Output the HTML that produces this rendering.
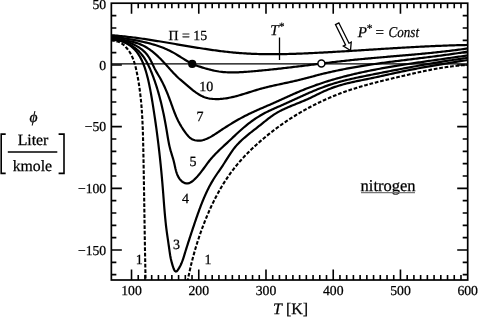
<!DOCTYPE html>
<html><head><meta charset="utf-8"><style>
html,body{margin:0;padding:0;background:#fff;}
body{width:478px;height:317px;overflow:hidden;position:relative;}
svg{position:absolute;left:0;top:0;}
text{font-family:"Liberation Serif","Times New Roman",serif;fill:#000;stroke:#000;stroke-width:0.25px;text-rendering:geometricPrecision;}
.c{fill:none;stroke:#000;stroke-width:2.2;stroke-linejoin:round;stroke-linecap:butt;}
.dash{stroke-dasharray:3.7 1.8;stroke-width:2.1;}
.t{stroke:#000;stroke-width:1.6;fill:none;}
</style></head><body>
<svg width="478" height="317" viewBox="0 0 478 317">
<defs><clipPath id="cp"><rect x="111.35" y="3.2" width="356.35" height="276.8"/></clipPath></defs>
<path class="t" d="M131.52,280 v-10.5 M131.52,3.2 v10.5 M138.24,280 v-5 M138.24,3.2 v5 M144.97,280 v-5 M144.97,3.2 v5 M151.69,280 v-5 M151.69,3.2 v5 M158.42,280 v-5 M158.42,3.2 v5 M165.14,280 v-5 M165.14,3.2 v5 M171.86,280 v-5 M171.86,3.2 v5 M178.59,280 v-5 M178.59,3.2 v5 M185.31,280 v-5 M185.31,3.2 v5 M192.03,280 v-5 M192.03,3.2 v5 M198.76,280 v-10.5 M198.76,3.2 v10.5 M205.48,280 v-5 M205.48,3.2 v5 M212.2,280 v-5 M212.2,3.2 v5 M218.93,280 v-5 M218.93,3.2 v5 M225.65,280 v-5 M225.65,3.2 v5 M232.37,280 v-5 M232.37,3.2 v5 M239.1,280 v-5 M239.1,3.2 v5 M245.82,280 v-5 M245.82,3.2 v5 M252.55,280 v-5 M252.55,3.2 v5 M259.27,280 v-5 M259.27,3.2 v5 M265.99,280 v-10.5 M265.99,3.2 v10.5 M272.72,280 v-5 M272.72,3.2 v5 M279.44,280 v-5 M279.44,3.2 v5 M286.16,280 v-5 M286.16,3.2 v5 M292.89,280 v-5 M292.89,3.2 v5 M299.61,280 v-5 M299.61,3.2 v5 M306.33,280 v-5 M306.33,3.2 v5 M313.06,280 v-5 M313.06,3.2 v5 M319.78,280 v-5 M319.78,3.2 v5 M326.5,280 v-5 M326.5,3.2 v5 M333.23,280 v-10.5 M333.23,3.2 v10.5 M339.95,280 v-5 M339.95,3.2 v5 M346.68,280 v-5 M346.68,3.2 v5 M353.4,280 v-5 M353.4,3.2 v5 M360.12,280 v-5 M360.12,3.2 v5 M366.85,280 v-5 M366.85,3.2 v5 M373.57,280 v-5 M373.57,3.2 v5 M380.29,280 v-5 M380.29,3.2 v5 M387.02,280 v-5 M387.02,3.2 v5 M393.74,280 v-5 M393.74,3.2 v5 M400.46,280 v-10.5 M400.46,3.2 v10.5 M407.19,280 v-5 M407.19,3.2 v5 M413.91,280 v-5 M413.91,3.2 v5 M420.63,280 v-5 M420.63,3.2 v5 M427.36,280 v-5 M427.36,3.2 v5 M434.08,280 v-5 M434.08,3.2 v5 M440.81,280 v-5 M440.81,3.2 v5 M447.53,280 v-5 M447.53,3.2 v5 M454.25,280 v-5 M454.25,3.2 v5 M460.98,280 v-5 M460.98,3.2 v5 M111.35,274.66 h5 M467.7,274.66 h-5 M111.35,262.33 h5 M467.7,262.33 h-5 M111.35,250 h10.5 M467.7,250 h-10.5 M111.35,237.66 h5 M467.7,237.66 h-5 M111.35,225.33 h5 M467.7,225.33 h-5 M111.35,213 h5 M467.7,213 h-5 M111.35,200.66 h5 M467.7,200.66 h-5 M111.35,188.33 h10.5 M467.7,188.33 h-10.5 M111.35,176 h5 M467.7,176 h-5 M111.35,163.66 h5 M467.7,163.66 h-5 M111.35,151.33 h5 M467.7,151.33 h-5 M111.35,139 h5 M467.7,139 h-5 M111.35,126.67 h10.5 M467.7,126.67 h-10.5 M111.35,114.33 h5 M467.7,114.33 h-5 M111.35,102 h5 M467.7,102 h-5 M111.35,89.67 h5 M467.7,89.67 h-5 M111.35,77.33 h5 M467.7,77.33 h-5 M111.35,65 h10.5 M467.7,65 h-10.5 M111.35,52.67 h5 M467.7,52.67 h-5 M111.35,40.33 h5 M467.7,40.33 h-5 M111.35,28 h5 M467.7,28 h-5 M111.35,15.67 h5 M467.7,15.67 h-5"/>
<line x1="111.35" y1="63.85" x2="467.7" y2="63.85" stroke="#000" stroke-width="1.3"/>
<g clip-path="url(#cp)">
<path d="M111.02,35.24 L112.53,35.35 L114.03,35.47 L115.53,35.59 L117.03,35.72 L118.54,35.86 L120.04,36.00 L121.54,36.15 L123.04,36.30 L124.54,36.46 L126.04,36.62 L127.54,36.79 L129.04,36.97 L130.54,37.14 L132.04,37.33 L133.53,37.52 L135.03,37.71 L136.53,37.91 L138.03,38.11 L139.52,38.32 L141.02,38.52 L142.52,38.74 L144.01,38.95 L145.51,39.17 L147.00,39.40 L148.50,39.62 L149.99,39.85 L151.49,40.08 L152.98,40.32 L154.48,40.56 L155.97,40.80 L157.47,41.04 L158.96,41.28 L160.46,41.52 L161.95,41.77 L163.44,42.02 L164.94,42.27 L166.43,42.52 L167.92,42.77 L169.42,43.02 L170.91,43.28 L172.40,43.53 L173.90,43.79 L175.39,44.04 L176.88,44.30 L178.38,44.55 L179.87,44.81 L181.36,45.06 L182.85,45.31 L184.35,45.57 L185.84,45.82 L187.33,46.07 L188.83,46.32 L190.32,46.57 L191.81,46.82 L193.31,47.06 L194.80,47.31 L196.30,47.55 L197.79,47.79 L199.28,48.03 L200.78,48.26 L202.27,48.50 L203.77,48.73 L205.26,48.95 L206.76,49.18 L208.25,49.40 L209.75,49.62 L211.24,49.83 L212.74,50.04 L214.24,50.25 L215.73,50.45 L217.23,50.65 L218.73,50.85 L220.22,51.04 L221.72,51.23 L223.22,51.41 L224.72,51.58 L226.22,51.76 L227.71,51.92 L229.21,52.08 L230.71,52.24 L232.21,52.39 L233.71,52.53 L235.21,52.67 L236.72,52.81 L238.22,52.93 L239.72,53.05 L241.22,53.16 L242.73,53.27 L244.23,53.37 L245.73,53.47 L247.24,53.55 L248.74,53.64 L250.25,53.71 L251.75,53.78 L253.26,53.85 L254.77,53.91 L256.27,53.96 L257.78,54.01 L259.29,54.05 L260.79,54.09 L262.30,54.12 L263.81,54.15 L265.32,54.17 L266.83,54.19 L268.34,54.20 L269.85,54.21 L271.36,54.21 L272.87,54.21 L274.38,54.21 L275.89,54.20 L277.40,54.19 L278.91,54.17 L280.42,54.15 L281.93,54.13 L283.44,54.10 L284.95,54.07 L286.46,54.04 L287.97,54.00 L289.48,53.96 L291.00,53.92 L292.51,53.88 L294.02,53.83 L295.53,53.78 L297.04,53.72 L298.56,53.67 L300.07,53.61 L301.58,53.55 L303.09,53.49 L304.60,53.42 L306.12,53.35 L307.63,53.29 L309.14,53.22 L310.65,53.15 L312.16,53.07 L313.68,53.00 L315.19,52.92 L316.70,52.85 L318.21,52.77 L319.72,52.69 L321.23,52.61 L322.75,52.53 L324.26,52.45 L325.77,52.37 L327.28,52.28 L328.79,52.20 L330.30,52.12 L331.81,52.03 L333.32,51.94 L334.83,51.86 L336.34,51.77 L337.86,51.68 L339.37,51.59 L340.88,51.50 L342.39,51.41 L343.90,51.32 L345.41,51.23 L346.92,51.14 L348.43,51.04 L349.94,50.95 L351.45,50.86 L352.96,50.76 L354.47,50.67 L355.98,50.57 L357.49,50.48 L359.00,50.39 L360.51,50.29 L362.02,50.20 L363.53,50.10 L365.04,50.00 L366.55,49.91 L368.06,49.81 L369.57,49.72 L371.08,49.62 L372.59,49.53 L374.10,49.43 L375.61,49.34 L377.12,49.24 L378.62,49.15 L380.13,49.05 L381.64,48.96 L383.15,48.86 L384.66,48.77 L386.17,48.68 L387.68,48.58 L389.19,48.49 L390.70,48.40 L392.21,48.31 L393.72,48.21 L395.23,48.12 L396.74,48.03 L398.25,47.94 L399.76,47.85 L401.27,47.76 L402.77,47.68 L404.28,47.59 L405.79,47.50 L407.30,47.42 L408.81,47.33 L410.32,47.25 L411.83,47.16 L413.34,47.08 L414.85,47.00 L416.36,46.92 L417.87,46.84 L419.38,46.76 L420.89,46.68 L422.40,46.61 L423.91,46.53 L425.41,46.46 L426.92,46.39 L428.43,46.31 L429.94,46.24 L431.45,46.17 L432.96,46.11 L434.47,46.04 L435.98,45.97 L437.49,45.91 L439.00,45.85 L440.51,45.79 L442.02,45.73 L443.53,45.67 L445.04,45.61 L446.55,45.56 L448.06,45.50 L449.57,45.45 L451.08,45.40 L452.59,45.35 L454.10,45.31 L455.61,45.26 L457.12,45.22 L458.63,45.18 L460.14,45.14 L461.65,45.10 L463.16,45.06 L464.67,45.03 L466.18,45.00 L467.69,44.97" class="c"/>
<path d="M111.00,36.22 L112.49,36.45 L113.97,36.68 L115.46,36.91 L116.95,37.14 L118.44,37.37 L119.93,37.61 L121.41,37.84 L122.90,38.08 L124.39,38.32 L125.88,38.56 L127.37,38.81 L128.85,39.06 L130.34,39.32 L131.82,39.58 L133.31,39.85 L134.79,40.13 L136.27,40.41 L137.75,40.70 L139.22,41.01 L140.70,41.32 L142.17,41.64 L143.64,41.97 L145.11,42.31 L146.57,42.67 L148.04,43.03 L149.50,43.41 L150.95,43.81 L152.40,44.21 L153.85,44.64 L155.30,45.07 L156.74,45.53 L158.17,46.00 L159.60,46.48 L161.03,46.99 L162.44,47.52 L163.85,48.07 L165.24,48.65 L166.63,49.25 L168.00,49.88 L169.36,50.53 L170.70,51.21 L172.03,51.92 L173.35,52.65 L174.66,53.40 L175.95,54.17 L177.24,54.95 L178.53,55.75 L179.80,56.54 L181.08,57.34 L182.35,58.14 L183.63,58.93 L184.91,59.71 L186.19,60.48 L187.48,61.23 L188.78,61.95 L190.10,62.65 L191.43,63.32 L192.78,63.95 L194.15,64.55 L195.53,65.12 L196.93,65.66 L198.34,66.17 L199.76,66.66 L201.20,67.13 L202.65,67.58 L204.10,68.02 L205.56,68.44 L207.03,68.86 L208.51,69.26 L209.99,69.65 L211.48,70.03 L212.96,70.38 L214.46,70.71 L215.95,71.01 L217.44,71.28 L218.94,71.52 L220.43,71.72 L221.93,71.90 L223.43,72.05 L224.93,72.17 L226.42,72.26 L227.92,72.33 L229.42,72.38 L230.92,72.41 L232.42,72.42 L233.92,72.41 L235.42,72.38 L236.92,72.34 L238.42,72.28 L239.93,72.21 L241.43,72.13 L242.93,72.04 L244.43,71.94 L245.93,71.84 L247.43,71.73 L248.93,71.61 L250.43,71.49 L251.93,71.37 L253.43,71.24 L254.93,71.12 L256.43,70.98 L257.93,70.85 L259.43,70.71 L260.93,70.57 L262.43,70.43 L263.92,70.28 L265.42,70.14 L266.92,69.99 L268.42,69.83 L269.92,69.68 L271.42,69.52 L272.91,69.36 L274.41,69.20 L275.91,69.04 L277.41,68.87 L278.90,68.70 L280.40,68.54 L281.90,68.37 L283.40,68.19 L284.89,68.02 L286.39,67.85 L287.89,67.67 L289.38,67.49 L290.88,67.31 L292.38,67.13 L293.87,66.95 L295.37,66.77 L296.87,66.59 L298.36,66.41 L299.86,66.22 L301.36,66.04 L302.85,65.85 L304.35,65.67 L305.85,65.48 L307.34,65.30 L308.84,65.11 L310.33,64.93 L311.83,64.74 L313.33,64.55 L314.82,64.37 L316.32,64.18 L317.82,64.00 L319.31,63.81 L320.81,63.63 L322.31,63.44 L323.80,63.26 L325.30,63.08 L326.80,62.90 L328.30,62.72 L329.79,62.54 L331.29,62.36 L332.79,62.18 L334.29,62.00 L335.78,61.83 L337.28,61.66 L338.78,61.48 L340.28,61.31 L341.77,61.14 L343.27,60.98 L344.77,60.81 L346.27,60.65 L347.77,60.49 L349.27,60.33 L350.77,60.17 L352.26,60.01 L353.76,59.86 L355.26,59.71 L356.76,59.56 L358.26,59.41 L359.76,59.27 L361.26,59.12 L362.76,58.98 L364.26,58.84 L365.76,58.70 L367.26,58.56 L368.76,58.42 L370.26,58.29 L371.76,58.15 L373.27,58.02 L374.77,57.88 L376.27,57.75 L377.77,57.62 L379.27,57.49 L380.77,57.36 L382.27,57.23 L383.77,57.10 L385.27,56.98 L386.77,56.85 L388.28,56.72 L389.78,56.59 L391.28,56.47 L392.78,56.34 L394.28,56.21 L395.78,56.09 L397.28,55.96 L398.78,55.83 L400.28,55.70 L401.79,55.58 L403.29,55.45 L404.79,55.32 L406.29,55.19 L407.79,55.06 L409.29,54.93 L410.79,54.79 L412.29,54.66 L413.79,54.53 L415.29,54.39 L416.79,54.26 L418.29,54.12 L419.79,53.98 L421.29,53.84 L422.79,53.70 L424.29,53.56 L425.79,53.41 L427.29,53.26 L428.79,53.12 L430.29,52.97 L431.79,52.82 L433.29,52.66 L434.79,52.51 L436.29,52.35 L437.78,52.19 L439.28,52.03 L440.78,51.86 L442.28,51.69 L443.78,51.52 L445.27,51.35 L446.77,51.18 L448.27,51.00 L449.76,50.82 L451.26,50.63 L452.76,50.45 L454.25,50.26 L455.75,50.07 L457.24,49.87 L458.74,49.67 L460.23,49.47 L461.73,49.26 L463.22,49.05 L464.72,48.84 L466.21,48.63 L467.70,48.40" class="c"/>
<path d="M111.01,37.00 L112.40,37.43 L113.81,37.83 L115.24,38.20 L116.69,38.54 L118.16,38.87 L119.64,39.18 L121.14,39.48 L122.64,39.77 L124.15,40.07 L125.66,40.36 L127.17,40.66 L128.68,40.98 L130.19,41.30 L131.69,41.65 L133.18,42.02 L134.65,42.42 L136.11,42.85 L137.56,43.31 L138.98,43.82 L140.38,44.37 L141.76,44.97 L143.11,45.61 L144.44,46.30 L145.74,47.03 L147.02,47.80 L148.29,48.60 L149.53,49.44 L150.75,50.32 L151.95,51.22 L153.13,52.15 L154.30,53.12 L155.44,54.10 L156.58,55.11 L157.69,56.14 L158.79,57.19 L159.88,58.25 L160.95,59.33 L162.01,60.42 L163.06,61.52 L164.09,62.63 L165.12,63.75 L166.13,64.87 L167.14,65.99 L168.15,67.12 L169.15,68.24 L170.15,69.36 L171.15,70.47 L172.16,71.58 L173.17,72.67 L174.20,73.76 L175.24,74.83 L176.29,75.89 L177.37,76.93 L178.46,77.95 L179.58,78.95 L180.71,79.94 L181.86,80.92 L183.02,81.89 L184.19,82.87 L185.36,83.85 L186.53,84.85 L187.70,85.85 L188.87,86.85 L190.05,87.85 L191.24,88.83 L192.43,89.81 L193.64,90.76 L194.85,91.68 L196.08,92.57 L197.33,93.43 L198.60,94.24 L199.89,95.00 L201.19,95.71 L202.53,96.37 L203.89,96.95 L205.27,97.47 L206.69,97.90 L208.14,98.26 L209.61,98.55 L211.10,98.77 L212.61,98.93 L214.12,99.02 L215.64,99.07 L217.16,99.07 L218.67,99.04 L220.18,98.96 L221.68,98.84 L223.18,98.70 L224.67,98.51 L226.16,98.30 L227.64,98.06 L229.12,97.79 L230.59,97.49 L232.07,97.17 L233.54,96.83 L235.00,96.47 L236.47,96.09 L237.93,95.69 L239.39,95.28 L240.84,94.86 L242.30,94.43 L243.76,93.98 L245.21,93.54 L246.66,93.08 L248.11,92.62 L249.57,92.16 L251.02,91.70 L252.47,91.25 L253.92,90.80 L255.38,90.35 L256.83,89.91 L258.29,89.48 L259.75,89.06 L261.21,88.66 L262.67,88.26 L264.13,87.88 L265.59,87.50 L267.06,87.14 L268.53,86.78 L269.99,86.43 L271.46,86.09 L272.93,85.75 L274.40,85.42 L275.87,85.09 L277.34,84.77 L278.81,84.45 L280.29,84.13 L281.76,83.81 L283.23,83.49 L284.70,83.18 L286.18,82.86 L287.65,82.55 L289.12,82.23 L290.59,81.90 L292.07,81.58 L293.54,81.25 L295.01,80.92 L296.48,80.58 L297.95,80.23 L299.42,79.88 L300.88,79.52 L302.35,79.15 L303.82,78.78 L305.28,78.40 L306.75,78.01 L308.21,77.63 L309.68,77.24 L311.14,76.85 L312.61,76.46 L314.07,76.07 L315.54,75.68 L317.00,75.29 L318.47,74.91 L319.94,74.54 L321.40,74.17 L322.87,73.80 L324.34,73.44 L325.82,73.09 L327.29,72.74 L328.76,72.40 L330.24,72.06 L331.71,71.73 L333.19,71.41 L334.67,71.08 L336.14,70.77 L337.62,70.46 L339.10,70.15 L340.58,69.85 L342.06,69.55 L343.55,69.26 L345.03,68.97 L346.51,68.69 L348.00,68.41 L349.48,68.14 L350.97,67.87 L352.45,67.60 L353.94,67.34 L355.43,67.08 L356.92,66.82 L358.40,66.57 L359.89,66.32 L361.38,66.08 L362.88,65.84 L364.37,65.60 L365.86,65.37 L367.35,65.13 L368.84,64.90 L370.34,64.68 L371.83,64.46 L373.33,64.24 L374.82,64.02 L376.32,63.80 L377.81,63.59 L379.31,63.38 L380.80,63.17 L382.30,62.96 L383.80,62.76 L385.29,62.56 L386.79,62.36 L388.29,62.16 L389.79,61.96 L391.29,61.76 L392.79,61.57 L394.29,61.38 L395.78,61.18 L397.28,60.99 L398.78,60.80 L400.28,60.62 L401.78,60.43 L403.28,60.24 L404.78,60.05 L406.29,59.87 L407.79,59.68 L409.29,59.50 L410.79,59.32 L412.29,59.13 L413.79,58.95 L415.29,58.76 L416.79,58.58 L418.29,58.40 L419.79,58.21 L421.29,58.03 L422.79,57.84 L424.29,57.66 L425.79,57.47 L427.29,57.28 L428.79,57.09 L430.29,56.91 L431.79,56.72 L433.29,56.53 L434.79,56.33 L436.29,56.14 L437.79,55.95 L439.29,55.75 L440.79,55.55 L442.29,55.35 L443.79,55.15 L445.28,54.95 L446.78,54.74 L448.28,54.54 L449.77,54.33 L451.27,54.12 L452.77,53.90 L454.26,53.69 L455.76,53.47 L457.25,53.25 L458.75,53.02 L460.24,52.80 L461.73,52.57 L463.23,52.33 L464.72,52.10 L466.21,51.86 L467.70,51.62" class="c"/>
<path d="M111.04,37.61 L112.45,37.89 L113.88,38.19 L115.32,38.50 L116.77,38.83 L118.23,39.18 L119.70,39.55 L121.17,39.94 L122.64,40.36 L124.11,40.80 L125.58,41.27 L127.04,41.76 L128.49,42.28 L129.92,42.84 L131.34,43.42 L132.74,44.04 L134.11,44.69 L135.47,45.38 L136.79,46.11 L138.08,46.88 L139.35,47.68 L140.57,48.53 L141.76,49.42 L142.90,50.36 L144.00,51.34 L145.06,52.37 L146.06,53.45 L147.01,54.58 L147.90,55.76 L148.74,57.00 L149.52,58.28 L150.27,59.60 L150.97,60.95 L151.66,62.32 L152.32,63.71 L152.98,65.10 L153.64,66.49 L154.31,67.87 L154.99,69.24 L155.71,70.57 L156.45,71.89 L157.21,73.18 L157.98,74.46 L158.75,75.73 L159.51,77.02 L160.25,78.31 L160.97,79.62 L161.68,80.94 L162.37,82.27 L163.04,83.62 L163.69,84.97 L164.34,86.33 L164.96,87.70 L165.57,89.08 L166.17,90.47 L166.76,91.86 L167.33,93.26 L167.89,94.66 L168.44,96.07 L168.99,97.48 L169.52,98.89 L170.04,100.31 L170.56,101.72 L171.07,103.14 L171.58,104.55 L172.09,105.97 L172.60,107.38 L173.11,108.79 L173.63,110.19 L174.17,111.59 L174.71,112.99 L175.27,114.37 L175.84,115.75 L176.43,117.13 L177.05,118.49 L177.69,119.85 L178.35,121.19 L179.05,122.52 L179.77,123.84 L180.53,125.15 L181.31,126.46 L182.12,127.75 L182.96,129.04 L183.82,130.32 L184.71,131.60 L185.62,132.88 L186.57,134.13 L187.55,135.34 L188.59,136.48 L189.68,137.52 L190.84,138.44 L192.08,139.21 L193.41,139.81 L194.79,140.25 L196.22,140.53 L197.66,140.67 L199.09,140.68 L200.51,140.57 L201.93,140.34 L203.33,140.01 L204.72,139.58 L206.11,139.07 L207.48,138.48 L208.85,137.82 L210.21,137.10 L211.56,136.34 L212.90,135.53 L214.24,134.70 L215.56,133.84 L216.88,132.97 L218.20,132.09 L219.50,131.23 L220.80,130.37 L222.09,129.52 L223.38,128.68 L224.67,127.85 L225.95,127.02 L227.23,126.21 L228.51,125.41 L229.78,124.61 L231.06,123.83 L232.34,123.06 L233.61,122.29 L234.89,121.53 L236.17,120.79 L237.46,120.05 L238.74,119.32 L240.04,118.60 L241.34,117.90 L242.64,117.20 L243.95,116.51 L245.27,115.83 L246.60,115.16 L247.93,114.50 L249.27,113.85 L250.62,113.20 L251.97,112.56 L253.33,111.93 L254.70,111.31 L256.07,110.69 L257.44,110.07 L258.82,109.46 L260.20,108.85 L261.58,108.25 L262.97,107.65 L264.36,107.04 L265.75,106.44 L267.14,105.84 L268.53,105.24 L269.93,104.64 L271.32,104.03 L272.71,103.43 L274.10,102.82 L275.49,102.21 L276.88,101.59 L278.26,100.97 L279.64,100.34 L281.02,99.72 L282.40,99.09 L283.78,98.46 L285.16,97.83 L286.54,97.20 L287.92,96.57 L289.30,95.95 L290.68,95.33 L292.06,94.71 L293.44,94.09 L294.82,93.48 L296.20,92.87 L297.59,92.27 L298.98,91.68 L300.37,91.09 L301.76,90.52 L303.15,89.95 L304.55,89.38 L305.95,88.83 L307.35,88.28 L308.75,87.74 L310.16,87.21 L311.57,86.68 L312.98,86.17 L314.39,85.66 L315.81,85.15 L317.23,84.66 L318.65,84.17 L320.07,83.68 L321.49,83.21 L322.92,82.74 L324.35,82.27 L325.78,81.82 L327.21,81.37 L328.64,80.92 L330.08,80.49 L331.52,80.05 L332.96,79.63 L334.40,79.21 L335.84,78.80 L337.29,78.39 L338.73,77.99 L340.18,77.59 L341.63,77.20 L343.08,76.81 L344.54,76.43 L345.99,76.06 L347.45,75.69 L348.91,75.33 L350.37,74.97 L351.83,74.61 L353.29,74.26 L354.75,73.92 L356.22,73.58 L357.68,73.24 L359.15,72.91 L360.62,72.59 L362.09,72.27 L363.56,71.95 L365.03,71.63 L366.51,71.33 L367.98,71.02 L369.46,70.72 L370.93,70.42 L372.41,70.13 L373.89,69.84 L375.37,69.55 L376.85,69.27 L378.33,68.99 L379.81,68.71 L381.30,68.44 L382.78,68.17 L384.26,67.91 L385.75,67.64 L387.24,67.38 L388.72,67.12 L390.21,66.87 L391.70,66.62 L393.19,66.37 L394.68,66.12 L396.17,65.88 L397.66,65.63 L399.15,65.40 L400.64,65.16 L402.13,64.92 L403.62,64.69 L405.11,64.46 L406.61,64.23 L408.10,64.00 L409.59,63.77 L411.09,63.55 L412.58,63.33 L414.07,63.10 L415.57,62.88 L417.06,62.66 L418.55,62.45 L420.05,62.23 L421.54,62.01 L423.04,61.80 L424.53,61.59 L426.02,61.37 L427.52,61.16 L429.01,60.95 L430.50,60.74 L432.00,60.53 L433.49,60.31 L434.98,60.10 L436.47,59.89 L437.97,59.68 L439.46,59.47 L440.95,59.26 L442.44,59.05 L443.93,58.84 L445.42,58.63 L446.91,58.42 L448.40,58.21 L449.89,58.00 L451.37,57.78 L452.86,57.57 L454.35,57.35 L455.83,57.14 L457.32,56.92 L458.80,56.70 L460.28,56.48 L461.77,56.26 L463.25,56.04 L464.73,55.82 L466.21,55.60 L467.69,55.37" class="c"/>
<path d="M111.00,38.20 L112.51,38.43 L114.00,38.71 L115.48,39.02 L116.94,39.38 L118.39,39.79 L119.82,40.23 L121.24,40.71 L122.65,41.24 L124.04,41.80 L125.42,42.41 L126.78,43.05 L128.13,43.73 L129.46,44.45 L130.78,45.21 L132.07,46.00 L133.34,46.84 L134.58,47.72 L135.78,48.63 L136.95,49.59 L138.08,50.60 L139.16,51.64 L140.19,52.73 L141.18,53.86 L142.12,55.02 L143.02,56.22 L143.89,57.45 L144.71,58.71 L145.51,59.99 L146.27,61.30 L147.00,62.62 L147.70,63.96 L148.38,65.31 L149.03,66.67 L149.67,68.04 L150.28,69.43 L150.87,70.82 L151.45,72.22 L152.01,73.62 L152.55,75.03 L153.08,76.45 L153.60,77.86 L154.11,79.28 L154.61,80.70 L155.10,82.13 L155.58,83.56 L156.05,84.99 L156.51,86.42 L156.96,87.85 L157.40,89.29 L157.83,90.73 L158.25,92.17 L158.66,93.62 L159.06,95.06 L159.46,96.51 L159.85,97.97 L160.23,99.42 L160.60,100.88 L160.96,102.34 L161.32,103.80 L161.67,105.26 L162.01,106.73 L162.34,108.20 L162.67,109.67 L162.99,111.14 L163.31,112.62 L163.62,114.09 L163.92,115.57 L164.22,117.06 L164.51,118.54 L164.79,120.03 L165.07,121.52 L165.35,123.01 L165.62,124.51 L165.89,126.00 L166.15,127.50 L166.41,129.00 L166.66,130.50 L166.91,132.01 L167.16,133.52 L167.40,135.02 L167.65,136.53 L167.91,138.03 L168.17,139.52 L168.44,141.01 L168.72,142.50 L169.01,143.97 L169.32,145.43 L169.65,146.88 L170.00,148.31 L170.37,149.73 L170.76,151.14 L171.18,152.53 L171.60,153.91 L172.04,155.30 L172.47,156.70 L172.90,158.12 L173.31,159.56 L173.71,161.02 L174.08,162.53 L174.43,164.06 L174.77,165.62 L175.12,167.18 L175.48,168.73 L175.88,170.28 L176.31,171.80 L176.78,173.28 L177.32,174.72 L177.93,176.10 L178.63,177.42 L179.41,178.66 L180.31,179.81 L181.32,180.86 L182.45,181.80 L183.69,182.58 L185.01,183.16 L186.36,183.47 L187.71,183.47 L189.05,183.14 L190.36,182.55 L191.64,181.75 L192.89,180.80 L194.09,179.75 L195.24,178.66 L196.35,177.54 L197.42,176.40 L198.44,175.23 L199.43,174.06 L200.39,172.87 L201.33,171.66 L202.25,170.45 L203.15,169.24 L204.04,168.02 L204.92,166.80 L205.80,165.58 L206.68,164.37 L207.57,163.17 L208.47,161.97 L209.39,160.79 L210.33,159.63 L211.29,158.48 L212.27,157.35 L213.27,156.24 L214.29,155.14 L215.33,154.05 L216.39,152.97 L217.45,151.91 L218.53,150.85 L219.62,149.80 L220.72,148.76 L221.82,147.72 L222.93,146.69 L224.05,145.66 L225.16,144.63 L226.28,143.60 L227.39,142.58 L228.50,141.55 L229.61,140.51 L230.71,139.48 L231.81,138.44 L232.91,137.41 L234.01,136.37 L235.11,135.34 L236.21,134.31 L237.32,133.29 L238.42,132.27 L239.54,131.25 L240.65,130.24 L241.78,129.24 L242.91,128.25 L244.05,127.27 L245.21,126.30 L246.37,125.34 L247.54,124.40 L248.73,123.46 L249.93,122.55 L251.14,121.64 L252.36,120.76 L253.60,119.88 L254.85,119.03 L256.11,118.19 L257.37,117.36 L258.65,116.56 L259.95,115.77 L261.25,115.00 L262.56,114.26 L263.88,113.53 L265.21,112.81 L266.55,112.12 L267.90,111.45 L269.25,110.80 L270.62,110.16 L271.98,109.54 L273.36,108.92 L274.73,108.32 L276.11,107.71 L277.49,107.11 L278.87,106.51 L280.26,105.91 L281.63,105.30 L283.01,104.68 L284.39,104.07 L285.76,103.45 L287.14,102.82 L288.51,102.20 L289.89,101.57 L291.26,100.94 L292.63,100.31 L294.00,99.68 L295.38,99.05 L296.75,98.42 L298.12,97.79 L299.50,97.16 L300.87,96.53 L302.25,95.91 L303.63,95.29 L305.00,94.67 L306.38,94.06 L307.76,93.45 L309.15,92.84 L310.53,92.24 L311.92,91.65 L313.31,91.06 L314.70,90.48 L316.09,89.90 L317.48,89.34 L318.88,88.78 L320.28,88.23 L321.69,87.69 L323.10,87.16 L324.51,86.64 L325.92,86.13 L327.34,85.63 L328.76,85.14 L330.19,84.67 L331.62,84.21 L333.05,83.75 L334.49,83.32 L335.93,82.89 L337.38,82.47 L338.83,82.06 L340.28,81.66 L341.73,81.27 L343.19,80.90 L344.65,80.52 L346.11,80.16 L347.58,79.80 L349.05,79.46 L350.52,79.11 L351.99,78.78 L353.46,78.45 L354.94,78.12 L356.41,77.80 L357.89,77.49 L359.37,77.18 L360.85,76.87 L362.33,76.57 L363.81,76.26 L365.29,75.96 L366.77,75.67 L368.25,75.37 L369.73,75.07 L371.21,74.78 L372.70,74.48 L374.18,74.19 L375.66,73.90 L377.14,73.60 L378.62,73.31 L380.10,73.02 L381.58,72.73 L383.06,72.43 L384.54,72.14 L386.02,71.85 L387.50,71.57 L388.98,71.28 L390.46,70.99 L391.94,70.70 L393.42,70.42 L394.90,70.13 L396.38,69.85 L397.85,69.56 L399.33,69.28 L400.81,69.00 L402.29,68.72 L403.77,68.44 L405.25,68.16 L406.73,67.88 L408.21,67.61 L409.70,67.33 L411.18,67.06 L412.66,66.79 L414.14,66.52 L415.62,66.25 L417.10,65.98 L418.58,65.71 L420.06,65.44 L421.55,65.18 L423.03,64.92 L424.51,64.65 L425.99,64.39 L427.48,64.13 L428.96,63.88 L430.45,63.62 L431.93,63.37 L433.41,63.11 L434.90,62.86 L436.39,62.61 L437.87,62.37 L439.36,62.12 L440.85,61.88 L442.33,61.63 L443.82,61.39 L445.31,61.15 L446.80,60.92 L448.29,60.68 L449.78,60.45 L451.27,60.22 L452.76,59.99 L454.25,59.76 L455.74,59.54 L457.24,59.32 L458.73,59.10 L460.22,58.88 L461.72,58.66 L463.22,58.45 L464.71,58.24 L466.21,58.03 L467.71,57.82" class="c"/>
<path d="M110.99,38.91 L112.49,39.13 L113.98,39.38 L115.46,39.67 L116.94,40.00 L118.40,40.36 L119.85,40.77 L121.28,41.22 L122.70,41.72 L124.09,42.28 L125.45,42.89 L126.79,43.56 L128.09,44.29 L129.37,45.09 L130.60,45.95 L131.80,46.88 L132.95,47.87 L134.05,48.92 L135.11,50.02 L136.11,51.16 L137.05,52.34 L137.94,53.56 L138.77,54.80 L139.55,56.07 L140.28,57.37 L140.98,58.69 L141.64,60.03 L142.27,61.38 L142.87,62.76 L143.44,64.15 L143.98,65.55 L144.50,66.97 L144.99,68.40 L145.45,69.84 L145.90,71.28 L146.33,72.73 L146.74,74.19 L147.13,75.66 L147.50,77.12 L147.87,78.59 L148.22,80.05 L148.55,81.52 L148.88,82.99 L149.20,84.46 L149.50,85.93 L149.80,87.41 L150.09,88.88 L150.37,90.35 L150.64,91.83 L150.91,93.31 L151.17,94.78 L151.43,96.26 L151.68,97.74 L151.93,99.22 L152.17,100.70 L152.42,102.18 L152.66,103.66 L152.90,105.15 L153.14,106.63 L153.37,108.12 L153.60,109.60 L153.83,111.09 L154.06,112.57 L154.29,114.06 L154.51,115.55 L154.73,117.04 L154.95,118.53 L155.17,120.02 L155.38,121.51 L155.60,123.00 L155.81,124.49 L156.02,125.98 L156.22,127.47 L156.43,128.97 L156.63,130.46 L156.83,131.95 L157.03,133.45 L157.22,134.94 L157.41,136.44 L157.60,137.93 L157.79,139.43 L157.98,140.92 L158.16,142.42 L158.35,143.91 L158.53,145.41 L158.70,146.91 L158.88,148.40 L159.05,149.90 L159.23,151.40 L159.40,152.89 L159.56,154.39 L159.73,155.89 L159.89,157.39 L160.05,158.88 L160.21,160.38 L160.37,161.88 L160.52,163.37 L160.68,164.87 L160.83,166.37 L160.98,167.87 L161.12,169.36 L161.27,170.86 L161.41,172.36 L161.55,173.85 L161.69,175.35 L161.83,176.85 L161.96,178.34 L162.09,179.84 L162.22,181.33 L162.35,182.83 L162.48,184.32 L162.60,185.82 L162.73,187.31 L162.85,188.80 L162.97,190.30 L163.08,191.79 L163.20,193.28 L163.31,194.78 L163.42,196.27 L163.54,197.76 L163.65,199.25 L163.76,200.75 L163.88,202.24 L163.99,203.73 L164.11,205.23 L164.23,206.72 L164.35,208.22 L164.47,209.71 L164.59,211.21 L164.72,212.71 L164.85,214.21 L164.99,215.71 L165.13,217.22 L165.28,218.72 L165.43,220.23 L165.58,221.74 L165.75,223.25 L165.91,224.76 L166.09,226.27 L166.27,227.79 L166.46,229.31 L166.66,230.83 L166.86,232.35 L167.07,233.87 L167.28,235.39 L167.50,236.91 L167.72,238.41 L167.94,239.91 L168.16,241.40 L168.37,242.87 L168.58,244.33 L168.79,245.77 L168.99,247.19 L169.19,248.59 L169.38,249.97 L169.57,251.34 L169.77,252.71 L169.98,254.10 L170.21,255.50 L170.48,256.94 L170.77,258.42 L171.11,259.94 L171.49,261.52 L171.92,263.17 L172.42,264.90 L172.98,266.71 L173.60,268.50 L174.30,270.05 L175.06,271.15 L175.88,271.58 L176.77,271.19 L177.67,270.19 L178.53,268.94 L179.32,267.64 L180.06,266.31 L180.73,264.95 L181.36,263.56 L181.94,262.15 L182.48,260.72 L182.99,259.27 L183.47,257.81 L183.94,256.35 L184.39,254.88 L184.83,253.42 L185.27,251.96 L185.71,250.51 L186.16,249.07 L186.61,247.64 L187.06,246.21 L187.52,244.79 L187.97,243.37 L188.43,241.95 L188.90,240.53 L189.36,239.11 L189.82,237.69 L190.29,236.27 L190.75,234.84 L191.22,233.42 L191.69,231.99 L192.16,230.57 L192.64,229.14 L193.11,227.71 L193.59,226.28 L194.07,224.85 L194.55,223.42 L195.03,221.99 L195.52,220.56 L196.01,219.14 L196.50,217.71 L197.00,216.28 L197.49,214.86 L198.00,213.43 L198.50,212.01 L199.02,210.59 L199.54,209.17 L200.06,207.76 L200.59,206.34 L201.13,204.94 L201.68,203.53 L202.24,202.13 L202.80,200.74 L203.38,199.35 L203.96,197.96 L204.56,196.58 L205.16,195.21 L205.78,193.84 L206.41,192.48 L207.06,191.12 L207.71,189.77 L208.38,188.43 L209.07,187.10 L209.77,185.78 L210.48,184.46 L211.21,183.15 L211.96,181.86 L212.72,180.57 L213.50,179.29 L214.30,178.02 L215.11,176.76 L215.94,175.50 L216.77,174.25 L217.62,173.00 L218.46,171.76 L219.32,170.51 L220.17,169.27 L221.02,168.02 L221.87,166.77 L222.72,165.52 L223.56,164.26 L224.39,162.99 L225.21,161.72 L226.02,160.43 L226.82,159.15 L227.62,157.86 L228.43,156.58 L229.24,155.30 L230.06,154.03 L230.90,152.78 L231.75,151.54 L232.62,150.31 L233.51,149.11 L234.43,147.93 L235.38,146.78 L236.36,145.65 L237.36,144.54 L238.39,143.46 L239.44,142.39 L240.50,141.34 L241.59,140.31 L242.69,139.29 L243.82,138.29 L244.95,137.30 L246.10,136.32 L247.26,135.36 L248.43,134.40 L249.61,133.45 L250.79,132.50 L251.98,131.57 L253.18,130.63 L254.38,129.70 L255.58,128.77 L256.77,127.84 L257.97,126.90 L259.16,125.97 L260.35,125.03 L261.53,124.08 L262.71,123.13 L263.88,122.19 L265.05,121.24 L266.23,120.30 L267.41,119.37 L268.59,118.45 L269.78,117.55 L270.98,116.66 L272.20,115.80 L273.43,114.95 L274.67,114.13 L275.93,113.34 L277.21,112.58 L278.51,111.85 L279.82,111.14 L281.15,110.45 L282.48,109.78 L283.84,109.14 L285.20,108.50 L286.57,107.89 L287.95,107.28 L289.34,106.69 L290.74,106.11 L292.14,105.53 L293.54,104.96 L294.95,104.40 L296.36,103.83 L297.77,103.27 L299.18,102.70 L300.58,102.13 L301.99,101.55 L303.39,100.97 L304.79,100.38 L306.18,99.77 L307.56,99.15 L308.93,98.52 L310.30,97.88 L311.67,97.23 L313.03,96.58 L314.39,95.92 L315.74,95.26 L317.10,94.60 L318.45,93.94 L319.80,93.28 L321.16,92.63 L322.52,91.99 L323.88,91.36 L325.24,90.74 L326.61,90.13 L327.99,89.54 L329.37,88.97 L330.76,88.42 L332.16,87.89 L333.57,87.38 L334.98,86.89 L336.40,86.42 L337.83,85.96 L339.26,85.52 L340.70,85.10 L342.15,84.69 L343.60,84.29 L345.06,83.91 L346.52,83.54 L347.98,83.18 L349.45,82.83 L350.92,82.49 L352.39,82.15 L353.87,81.83 L355.34,81.51 L356.82,81.19 L358.31,80.88 L359.79,80.58 L361.27,80.27 L362.75,79.97 L364.24,79.67 L365.72,79.37 L367.20,79.07 L368.68,78.76 L370.16,78.46 L371.63,78.15 L373.11,77.84 L374.58,77.52 L376.05,77.20 L377.52,76.88 L378.99,76.56 L380.46,76.24 L381.93,75.91 L383.39,75.59 L384.86,75.26 L386.32,74.94 L387.79,74.61 L389.25,74.29 L390.72,73.96 L392.18,73.64 L393.65,73.32 L395.12,73.00 L396.58,72.68 L398.05,72.36 L399.52,72.05 L400.99,71.74 L402.46,71.43 L403.93,71.13 L405.41,70.83 L406.88,70.53 L408.35,70.24 L409.83,69.94 L411.31,69.65 L412.79,69.37 L414.27,69.08 L415.75,68.80 L417.23,68.52 L418.71,68.25 L420.19,67.97 L421.67,67.70 L423.15,67.43 L424.64,67.16 L426.12,66.90 L427.61,66.63 L429.09,66.37 L430.58,66.11 L432.06,65.85 L433.55,65.59 L435.03,65.34 L436.52,65.09 L438.01,64.83 L439.49,64.58 L440.98,64.33 L442.47,64.09 L443.95,63.84 L445.44,63.59 L446.93,63.35 L448.41,63.11 L449.90,62.86 L451.38,62.62 L452.87,62.38 L454.36,62.14 L455.84,61.90 L457.32,61.66 L458.81,61.42 L460.29,61.19 L461.77,60.95 L463.26,60.71 L464.74,60.47 L466.22,60.24 L467.70,60.00" class="c"/>
<path d="M110.98,40.34 L112.54,40.53 L114.07,40.76 L115.58,41.02 L117.04,41.36 L118.45,41.79 L119.81,42.33 L121.09,43.00 L122.30,43.83 L123.45,44.78 L124.56,45.82 L125.64,46.92 L126.69,48.07 L127.67,49.27 L128.60,50.49 L129.45,51.75 L130.25,53.04 L130.99,54.36 L131.67,55.70 L132.30,57.06 L132.89,58.44 L133.43,59.85 L133.93,61.27 L134.39,62.71 L134.83,64.16 L135.23,65.62 L135.61,67.09 L135.96,68.57 L136.30,70.06 L136.62,71.55 L136.93,73.04 L137.23,74.53 L137.52,76.02 L137.80,77.52 L138.07,79.01 L138.33,80.51 L138.58,82.00 L138.82,83.50 L139.05,85.00 L139.27,86.50 L139.49,88.00 L139.69,89.50 L139.89,91.01 L140.08,92.51 L140.27,94.02 L140.44,95.52 L140.61,97.03 L140.77,98.53 L140.92,100.04 L141.07,101.55 L141.21,103.06 L141.34,104.57 L141.47,106.08 L141.59,107.59 L141.70,109.10 L141.81,110.61 L141.92,112.13 L142.02,113.64 L142.11,115.15 L142.20,116.67 L142.28,118.18 L142.36,119.70 L142.44,121.21 L142.51,122.73 L142.58,124.24 L142.64,125.76 L142.70,127.28 L142.76,128.79 L142.81,130.31 L142.86,131.83 L142.91,133.34 L142.96,134.86 L143.00,136.38 L143.04,137.90 L143.08,139.42 L143.12,140.93 L143.15,142.45 L143.19,143.97 L143.22,145.49 L143.25,147.01 L143.29,148.53 L143.32,150.04 L143.35,151.56 L143.38,153.08 L143.41,154.60 L143.44,156.11 L143.47,157.63 L143.50,159.15 L143.53,160.67 L143.55,162.18 L143.58,163.70 L143.61,165.22 L143.64,166.74 L143.66,168.25 L143.69,169.77 L143.72,171.29 L143.75,172.80 L143.77,174.32 L143.80,175.84 L143.82,177.35 L143.85,178.87 L143.87,180.39 L143.90,181.90 L143.93,183.42 L143.95,184.94 L143.97,186.45 L144.00,187.97 L144.02,189.49 L144.05,191.00 L144.07,192.52 L144.10,194.03 L144.12,195.55 L144.14,197.07 L144.17,198.58 L144.19,200.10 L144.22,201.62 L144.24,203.13 L144.26,204.65 L144.29,206.16 L144.31,207.68 L144.33,209.20 L144.36,210.71 L144.38,212.23 L144.40,213.74 L144.43,215.26 L144.45,216.78 L144.48,218.29 L144.50,219.81 L144.52,221.32 L144.55,222.84 L144.57,224.36 L144.59,225.87 L144.62,227.39 L144.64,228.90 L144.67,230.42 L144.69,231.94 L144.72,233.45 L144.74,234.97 L144.76,236.49 L144.79,238.00 L144.81,239.52 L144.84,241.03 L144.87,242.55 L144.89,244.07 L144.92,245.58 L144.94,247.10 L144.97,248.62 L145.00,250.13 L145.02,251.65 L145.05,253.17 L145.08,254.68 L145.10,256.20 L145.13,257.72 L145.16,259.24 L145.19,260.75 L145.22,262.27 L145.25,263.79 L145.27,265.30 L145.30,266.82 L145.33,268.34 L145.36,269.86 L145.40,271.37 L145.43,272.89 L145.46,274.41 L145.49,275.93 L145.52,277.45 L145.55,278.96 L145.59,280.48 L145.62,282.00" class="c dash"/>
<path d="M187.42,281.96 L187.70,280.49 L187.99,279.02 L188.28,277.54 L188.58,276.07 L188.89,274.60 L189.20,273.13 L189.52,271.66 L189.85,270.19 L190.18,268.72 L190.52,267.25 L190.87,265.79 L191.22,264.32 L191.58,262.86 L191.94,261.40 L192.31,259.94 L192.69,258.48 L193.08,257.02 L193.47,255.56 L193.87,254.10 L194.27,252.65 L194.69,251.20 L195.10,249.75 L195.53,248.30 L195.96,246.85 L196.40,245.41 L196.85,243.96 L197.30,242.52 L197.76,241.08 L198.22,239.65 L198.70,238.21 L199.18,236.78 L199.66,235.35 L200.15,233.92 L200.66,232.49 L201.16,231.07 L201.68,229.65 L202.20,228.23 L202.73,226.81 L203.26,225.40 L203.80,223.99 L204.35,222.58 L204.91,221.18 L205.47,219.77 L206.04,218.37 L206.62,216.98 L207.20,215.58 L207.79,214.19 L208.39,212.81 L209.00,211.42 L209.61,210.04 L210.23,208.67 L210.86,207.29 L211.50,205.92 L212.14,204.56 L212.80,203.20 L213.46,201.84 L214.13,200.49 L214.80,199.14 L215.49,197.80 L216.19,196.46 L216.89,195.13 L217.60,193.80 L218.32,192.48 L219.06,191.16 L219.80,189.85 L220.55,188.55 L221.31,187.25 L222.08,185.96 L222.86,184.67 L223.65,183.39 L224.45,182.12 L225.26,180.85 L226.08,179.59 L226.91,178.34 L227.75,177.09 L228.60,175.86 L229.47,174.63 L230.34,173.40 L231.23,172.19 L232.12,170.98 L233.03,169.78 L233.95,168.59 L234.88,167.41 L235.83,166.24 L236.78,165.07 L237.75,163.92 L238.72,162.77 L239.71,161.63 L240.71,160.49 L241.71,159.37 L242.73,158.25 L243.76,157.14 L244.79,156.04 L245.84,154.95 L246.89,153.86 L247.95,152.78 L249.02,151.71 L250.10,150.65 L251.19,149.60 L252.28,148.55 L253.38,147.51 L254.49,146.47 L255.61,145.45 L256.73,144.43 L257.86,143.42 L258.99,142.41 L260.13,141.41 L261.28,140.42 L262.43,139.44 L263.58,138.46 L264.75,137.49 L265.91,136.52 L267.08,135.57 L268.26,134.62 L269.44,133.67 L270.63,132.74 L271.82,131.81 L273.02,130.88 L274.22,129.97 L275.43,129.06 L276.64,128.16 L277.85,127.26 L279.08,126.38 L280.30,125.50 L281.53,124.62 L282.77,123.76 L284.01,122.90 L285.25,122.05 L286.50,121.20 L287.76,120.36 L289.01,119.53 L290.28,118.71 L291.54,117.89 L292.82,117.09 L294.09,116.29 L295.37,115.49 L296.66,114.71 L297.95,113.93 L299.24,113.16 L300.54,112.39 L301.84,111.64 L303.15,110.89 L304.46,110.15 L305.77,109.41 L307.09,108.69 L308.41,107.97 L309.74,107.26 L311.07,106.55 L312.41,105.86 L313.74,105.17 L315.09,104.49 L316.43,103.81 L317.78,103.15 L319.14,102.49 L320.50,101.84 L321.86,101.20 L323.22,100.57 L324.59,99.94 L325.96,99.32 L327.34,98.71 L328.72,98.11 L330.10,97.52 L331.49,96.93 L332.88,96.35 L334.27,95.78 L335.67,95.22 L337.07,94.66 L338.48,94.12 L339.88,93.58 L341.29,93.05 L342.71,92.52 L344.12,92.01 L345.54,91.50 L346.97,91.01 L348.39,90.52 L349.82,90.03 L351.26,89.56 L352.69,89.09 L354.13,88.63 L355.57,88.18 L357.01,87.73 L358.46,87.29 L359.90,86.85 L361.35,86.43 L362.80,86.00 L364.26,85.59 L365.71,85.17 L367.17,84.77 L368.63,84.37 L370.09,83.97 L371.55,83.58 L373.01,83.19 L374.48,82.80 L375.94,82.42 L377.41,82.05 L378.88,81.68 L380.35,81.31 L381.82,80.94 L383.29,80.58 L384.76,80.22 L386.23,79.86 L387.70,79.50 L389.17,79.15 L390.65,78.79 L392.12,78.44 L393.59,78.09 L395.06,77.75 L396.54,77.40 L398.01,77.05 L399.48,76.71 L400.95,76.36 L402.42,76.02 L403.89,75.67 L405.36,75.33 L406.83,74.99 L408.30,74.65 L409.77,74.31 L411.24,73.97 L412.71,73.64 L414.18,73.30 L415.65,72.97 L417.12,72.65 L418.59,72.32 L420.06,72.00 L421.53,71.68 L423.00,71.37 L424.47,71.06 L425.94,70.76 L427.42,70.46 L428.89,70.16 L430.37,69.87 L431.84,69.58 L433.32,69.30 L434.80,69.03 L436.28,68.76 L437.76,68.50 L439.24,68.24 L440.72,67.99 L442.21,67.75 L443.69,67.51 L445.18,67.28 L446.67,67.06 L448.16,66.85 L449.65,66.64 L451.15,66.45 L452.64,66.26 L454.14,66.08 L455.64,65.91 L457.14,65.75 L458.65,65.60 L460.16,65.45 L461.67,65.32 L463.18,65.20 L464.69,65.09 L466.21,64.99 L467.73,64.90" class="c dash"/>
</g>
<rect x="111.35" y="3.2" width="356.35" height="276.8" fill="none" stroke="#000" stroke-width="1.7"/>
<line x1="279.5" y1="37.5" x2="279.5" y2="60" stroke="#000" stroke-width="1.3"/>
<circle cx="192.2" cy="63.9" r="4.1" fill="#000"/>
<circle cx="321.4" cy="63.6" r="3.5" fill="#fff" stroke="#000" stroke-width="1.5"/>
<polygon points="338.90,22.95 348.99,43.21 351.23,42.09 350.50,50.50 343.35,46.02 345.59,44.90 335.50,24.65" fill="#fff" stroke="#000" stroke-width="1.3" stroke-linejoin="miter"/>

<g font-size="13.7" text-anchor="end">
<text x="106.2" y="8.6">50</text>
<text x="106.2" y="69.5">0</text>
<text x="106.2" y="131.4">&#8722;50</text>
<text x="106.2" y="193.2">&#8722;100</text>
<text x="106.2" y="254.8">&#8722;150</text>
</g>
<g font-size="13.7" text-anchor="middle">
<text x="131.52" y="294.8">100</text>
<text x="198.76" y="294.8">200</text>
<text x="265.99" y="294.8">300</text>
<text x="333.23" y="294.8">400</text>
<text x="400.46" y="294.8">500</text>
<text x="467.7" y="294.8">600</text>
</g>
<text x="273" y="313.8" font-size="16"><tspan font-style="italic">T</tspan> [K]</text>
<text x="33.4" y="122.3" font-size="15.5" font-style="italic" text-anchor="middle">&#981;</text>
<text x="33" y="145.2" font-size="15.8" text-anchor="middle">Liter</text>
<line x1="7.8" y1="152" x2="57.3" y2="152" stroke="#000" stroke-width="1.6"/>
<text x="32.4" y="170.5" font-size="15.8" text-anchor="middle">kmole</text>
<path d="M5.7,134.1 H1.2 V173.4 H5.7" fill="none" stroke="#000" stroke-width="1.6"/>
<path d="M58.6,134.1 H64 V173.4 H58.6" fill="none" stroke="#000" stroke-width="1.6"/>
<text x="360.6" y="191.2" font-size="16.5">nitrogen</text>
<line x1="361" y1="192.7" x2="415" y2="192.7" stroke="#777" stroke-width="1.3"/>
<text x="270.2" y="34.6" font-size="15" font-style="italic">T</text>
<text x="279.1" y="30" font-size="11">*</text>
<text x="357.7" y="37.2" font-size="15" font-style="italic">P</text>
<text x="366.8" y="31.8" font-size="11.5">*</text>
<text x="375.4" y="37.2" font-size="15">=</text>
<text x="388.6" y="37.2" font-size="15" font-style="italic" textLength="30.5" lengthAdjust="spacingAndGlyphs">Const</text>
<text x="168.4" y="39.7" font-size="13.9">&#928; = 15</text>
<g font-size="14">
<text x="199.3" y="90.6">10</text>
<text x="196.4" y="120.8">7</text>
<text x="189.4" y="165.5">5</text>
<text x="181.9" y="203.4">4</text>
<text x="173.1" y="248.6">3</text>
<text x="135.8" y="263.8">1</text>
<text x="204.6" y="263.8">1</text>
</g>

</svg>
</body></html>
